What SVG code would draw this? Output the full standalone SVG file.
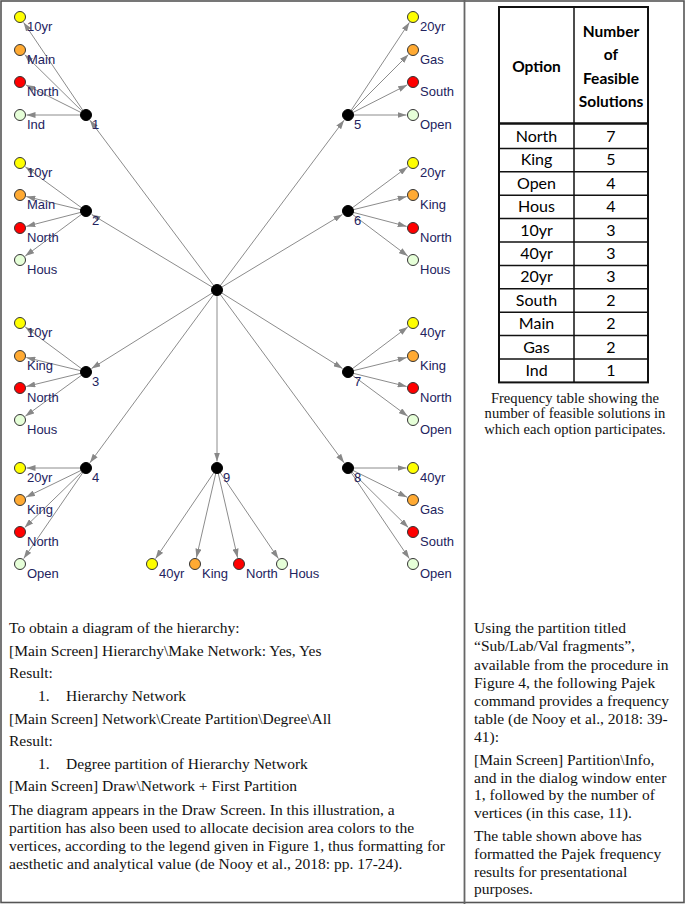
<svg xmlns="http://www.w3.org/2000/svg" width="685" height="904" viewBox="0 0 685 904">
<style>
.e{stroke:#8c8c8c;stroke-width:1;fill:none;marker-end:url(#ah)}
.hub{fill:#000;stroke:#000;stroke-width:1}
.lf{stroke:#333;stroke-width:1}
.Y{fill:#ffff00}.O{fill:#ffaa33}.R{fill:#ff0000}.G{fill:#e6ffd8}
.lb{font-family:"Liberation Sans",Arial,sans-serif;font-size:13px;fill:#23235e}
.th{font-family:Lato,"Open Sans",sans-serif;font-size:15.5px;font-weight:bold;fill:#000;text-anchor:middle}
.td{font-family:Lato,"Open Sans",sans-serif;font-size:16px;fill:#000;text-anchor:middle}
.tx{font-family:"Liberation Serif","Times New Roman",serif;font-size:15.5px;fill:#111}
.cap{font-family:"Liberation Serif","Times New Roman",serif;font-size:14.6px;fill:#111;text-anchor:middle}
.tl{stroke:#111;stroke-width:1.5}
</style>
<defs>
<marker id="ah" markerUnits="userSpaceOnUse" markerWidth="9" markerHeight="6" refX="9" refY="3" orient="auto" viewBox="0 0 9 6">
<path d="M0,0 L9,3 L0,6 z" fill="#888"/>
</marker>
</defs>
<rect x="0" y="0" width="685" height="904" fill="#fff"/>
<rect x="1" y="1" width="683" height="901.5" fill="none" stroke="#555" stroke-width="1.6"/>
<line x1="464.5" y1="0" x2="464.5" y2="904" stroke="#666" stroke-width="1.8"/>

<g id="connectors">
<line class="e" x1="217" y1="290" x2="89.9" y2="120.2"/>
<line class="e" x1="217" y1="290" x2="91.6" y2="214.4"/>
<line class="e" x1="217" y1="290" x2="91.5" y2="368.5"/>
<line class="e" x1="217" y1="290" x2="89.9" y2="462.8"/>
<line class="e" x1="217" y1="290" x2="344.1" y2="120.2"/>
<line class="e" x1="217" y1="290" x2="342.4" y2="214.4"/>
<line class="e" x1="217" y1="290" x2="342.5" y2="368.5"/>
<line class="e" x1="217" y1="290" x2="344.1" y2="462.8"/>
<line class="e" x1="217" y1="290" x2="217" y2="461.5"/>

<line class="e" x1="86" y1="115" x2="23.6" y2="22.4"/>
<line class="e" x1="86" y1="115" x2="24.6" y2="54.6"/>
<line class="e" x1="86" y1="115" x2="25.8" y2="84.9"/>
<line class="e" x1="86" y1="115" x2="26.5" y2="115"/>

<line class="e" x1="86" y1="211" x2="25.3" y2="166.8"/>
<line class="e" x1="86" y1="211" x2="26.3" y2="196.5"/>
<line class="e" x1="86" y1="211" x2="26.3" y2="226.4"/>
<line class="e" x1="86" y1="211" x2="25.2" y2="256.1"/>

<line class="e" x1="86" y1="372" x2="25.2" y2="326.9"/>
<line class="e" x1="86" y1="372" x2="26.3" y2="357.5"/>
<line class="e" x1="86" y1="372" x2="26.3" y2="386.5"/>
<line class="e" x1="86" y1="372" x2="25.3" y2="416.2"/>

<line class="e" x1="86" y1="468" x2="26.5" y2="468"/>
<line class="e" x1="86" y1="468" x2="25.9" y2="497.2"/>
<line class="e" x1="86" y1="468" x2="24.7" y2="527.5"/>
<line class="e" x1="86" y1="468" x2="23.7" y2="558.6"/>

<line class="e" x1="348" y1="115" x2="409.4" y2="22.4"/>
<line class="e" x1="348" y1="115" x2="408.4" y2="54.6"/>
<line class="e" x1="348" y1="115" x2="407.2" y2="84.9"/>
<line class="e" x1="348" y1="115" x2="406.5" y2="115"/>

<line class="e" x1="348" y1="211" x2="407.7" y2="166.8"/>
<line class="e" x1="348" y1="211" x2="406.7" y2="196.5"/>
<line class="e" x1="348" y1="211" x2="406.7" y2="226.4"/>
<line class="e" x1="348" y1="211" x2="407.8" y2="256.1"/>

<line class="e" x1="348" y1="372" x2="407.8" y2="326.9"/>
<line class="e" x1="348" y1="372" x2="406.7" y2="357.5"/>
<line class="e" x1="348" y1="372" x2="406.7" y2="386.5"/>
<line class="e" x1="348" y1="372" x2="407.7" y2="416.2"/>

<line class="e" x1="348" y1="468" x2="406.5" y2="468"/>
<line class="e" x1="348" y1="468" x2="407.1" y2="497.2"/>
<line class="e" x1="348" y1="468" x2="408.3" y2="527.5"/>
<line class="e" x1="348" y1="468" x2="409.3" y2="558.6"/>

<line class="e" x1="217" y1="468" x2="155.6" y2="558.6"/>
<line class="e" x1="217" y1="468" x2="196.4" y2="557.7"/>
<line class="e" x1="217" y1="468" x2="237.6" y2="557.7"/>
<line class="e" x1="217" y1="468" x2="278.4" y2="558.6"/>
</g>

<g id="root"><circle class="hub" cx="217" cy="290" r="5.5"/></g>

<g id="hub1"><circle class="hub" cx="86" cy="115" r="5.5"/><text class="lb" x="92" y="129">1</text></g>
<g id="hub2"><circle class="hub" cx="86" cy="211" r="5.5"/><text class="lb" x="92" y="225">2</text></g>
<g id="hub3"><circle class="hub" cx="86" cy="372" r="5.5"/><text class="lb" x="92" y="386">3</text></g>
<g id="hub4"><circle class="hub" cx="86" cy="468" r="5.5"/><text class="lb" x="92" y="482">4</text></g>
<g id="hub5"><circle class="hub" cx="348" cy="115" r="5.5"/><text class="lb" x="354" y="129">5</text></g>
<g id="hub6"><circle class="hub" cx="348" cy="211" r="5.5"/><text class="lb" x="354" y="225">6</text></g>
<g id="hub7"><circle class="hub" cx="348" cy="372" r="5.5"/><text class="lb" x="354" y="386">7</text></g>
<g id="hub8"><circle class="hub" cx="348" cy="468" r="5.5"/><text class="lb" x="354" y="482">8</text></g>
<g id="hub9"><circle class="hub" cx="217" cy="468" r="5.5"/><text class="lb" x="223" y="482">9</text></g>

<g id="h1-10yr"><circle class="lf Y" cx="20" cy="17" r="5.5"/><text class="lb" x="27" y="31">10yr</text></g>
<g id="h1-main"><circle class="lf O" cx="20" cy="50" r="5.5"/><text class="lb" x="27" y="64">Main</text></g>
<g id="h1-north"><circle class="lf R" cx="20" cy="82" r="5.5"/><text class="lb" x="27" y="96">North</text></g>
<g id="h1-ind"><circle class="lf G" cx="20" cy="115" r="5.5"/><text class="lb" x="27" y="129">Ind</text></g>

<g id="h2-10yr"><circle class="lf Y" cx="20" cy="163" r="5.5"/><text class="lb" x="27" y="177">10yr</text></g>
<g id="h2-main"><circle class="lf O" cx="20" cy="195" r="5.5"/><text class="lb" x="27" y="209">Main</text></g>
<g id="h2-north"><circle class="lf R" cx="20" cy="228" r="5.5"/><text class="lb" x="27" y="242">North</text></g>
<g id="h2-hous"><circle class="lf G" cx="20" cy="260" r="5.5"/><text class="lb" x="27" y="274">Hous</text></g>

<g id="h3-10yr"><circle class="lf Y" cx="20" cy="323" r="5.5"/><text class="lb" x="27" y="337">10yr</text></g>
<g id="h3-king"><circle class="lf O" cx="20" cy="356" r="5.5"/><text class="lb" x="27" y="370">King</text></g>
<g id="h3-north"><circle class="lf R" cx="20" cy="388" r="5.5"/><text class="lb" x="27" y="402">North</text></g>
<g id="h3-hous"><circle class="lf G" cx="20" cy="420" r="5.5"/><text class="lb" x="27" y="434">Hous</text></g>

<g id="h4-20yr"><circle class="lf Y" cx="20" cy="468" r="5.5"/><text class="lb" x="27" y="482">20yr</text></g>
<g id="h4-king"><circle class="lf O" cx="20" cy="500" r="5.5"/><text class="lb" x="27" y="514">King</text></g>
<g id="h4-north"><circle class="lf R" cx="20" cy="532" r="5.5"/><text class="lb" x="27" y="546">North</text></g>
<g id="h4-open"><circle class="lf G" cx="20" cy="564" r="5.5"/><text class="lb" x="27" y="578">Open</text></g>

<g id="h5-20yr"><circle class="lf Y" cx="413" cy="17" r="5.5"/><text class="lb" x="420" y="31">20yr</text></g>
<g id="h5-gas"><circle class="lf O" cx="413" cy="50" r="5.5"/><text class="lb" x="420" y="64">Gas</text></g>
<g id="h5-south"><circle class="lf R" cx="413" cy="82" r="5.5"/><text class="lb" x="420" y="96">South</text></g>
<g id="h5-open"><circle class="lf G" cx="413" cy="115" r="5.5"/><text class="lb" x="420" y="129">Open</text></g>

<g id="h6-20yr"><circle class="lf Y" cx="413" cy="163" r="5.5"/><text class="lb" x="420" y="177">20yr</text></g>
<g id="h6-king"><circle class="lf O" cx="413" cy="195" r="5.5"/><text class="lb" x="420" y="209">King</text></g>
<g id="h6-north"><circle class="lf R" cx="413" cy="228" r="5.5"/><text class="lb" x="420" y="242">North</text></g>
<g id="h6-hous"><circle class="lf G" cx="413" cy="260" r="5.5"/><text class="lb" x="420" y="274">Hous</text></g>

<g id="h7-40yr"><circle class="lf Y" cx="413" cy="323" r="5.5"/><text class="lb" x="420" y="337">40yr</text></g>
<g id="h7-king"><circle class="lf O" cx="413" cy="356" r="5.5"/><text class="lb" x="420" y="370">King</text></g>
<g id="h7-north"><circle class="lf R" cx="413" cy="388" r="5.5"/><text class="lb" x="420" y="402">North</text></g>
<g id="h7-open"><circle class="lf G" cx="413" cy="420" r="5.5"/><text class="lb" x="420" y="434">Open</text></g>

<g id="h8-40yr"><circle class="lf Y" cx="413" cy="468" r="5.5"/><text class="lb" x="420" y="482">40yr</text></g>
<g id="h8-gas"><circle class="lf O" cx="413" cy="500" r="5.5"/><text class="lb" x="420" y="514">Gas</text></g>
<g id="h8-south"><circle class="lf R" cx="413" cy="532" r="5.5"/><text class="lb" x="420" y="546">South</text></g>
<g id="h8-open"><circle class="lf G" cx="413" cy="564" r="5.5"/><text class="lb" x="420" y="578">Open</text></g>

<g id="h9-40yr"><circle class="lf Y" cx="152" cy="564" r="5.5"/><text class="lb" x="159" y="578">40yr</text></g>
<g id="h9-king"><circle class="lf O" cx="195" cy="564" r="5.5"/><text class="lb" x="202" y="578">King</text></g>
<g id="h9-north"><circle class="lf R" cx="239" cy="564" r="5.5"/><text class="lb" x="246" y="578">North</text></g>
<g id="h9-hous"><circle class="lf G" cx="282" cy="564" r="5.5"/><text class="lb" x="289" y="578">Hous</text></g>

<g id="table">
<rect x="499" y="7" width="149" height="375.4" fill="none" stroke="#111" stroke-width="2"/>
<line class="tl" x1="574" y1="7" x2="574" y2="382.4"/>
<line x1="499" y1="123.5" x2="648" y2="123.5" stroke="#111" stroke-width="2.5"/>
<line class="tl" x1="499" y1="148.4" x2="648" y2="148.4"/>
<line class="tl" x1="499" y1="171.8" x2="648" y2="171.8"/>
<line class="tl" x1="499" y1="195.2" x2="648" y2="195.2"/>
<line class="tl" x1="499" y1="218.6" x2="648" y2="218.6"/>
<line class="tl" x1="499" y1="242" x2="648" y2="242"/>
<line class="tl" x1="499" y1="265.4" x2="648" y2="265.4"/>
<line class="tl" x1="499" y1="288.8" x2="648" y2="288.8"/>
<line class="tl" x1="499" y1="312.2" x2="648" y2="312.2"/>
<line class="tl" x1="499" y1="335.6" x2="648" y2="335.6"/>
<line class="tl" x1="499" y1="359" x2="648" y2="359"/>
<text class="th" x="536.5" y="72">Option</text>
<text class="th" x="611" y="37">Number</text>
<text class="th" x="611" y="60">of</text>
<text class="th" x="611" y="84">Feasible</text>
<text class="th" x="611" y="107">Solutions</text>
<text class="td" x="536.5" y="142">North</text><text class="td" x="611" y="142">7</text>
<text class="td" x="536.5" y="165.4">King</text><text class="td" x="611" y="165.4">5</text>
<text class="td" x="536.5" y="188.8">Open</text><text class="td" x="611" y="188.8">4</text>
<text class="td" x="536.5" y="212.2">Hous</text><text class="td" x="611" y="212.2">4</text>
<text class="td" x="536.5" y="235.6">10yr</text><text class="td" x="611" y="235.6">3</text>
<text class="td" x="536.5" y="259">40yr</text><text class="td" x="611" y="259">3</text>
<text class="td" x="536.5" y="282.4">20yr</text><text class="td" x="611" y="282.4">3</text>
<text class="td" x="536.5" y="305.8">South</text><text class="td" x="611" y="305.8">2</text>
<text class="td" x="536.5" y="329.2">Main</text><text class="td" x="611" y="329.2">2</text>
<text class="td" x="536.5" y="352.6">Gas</text><text class="td" x="611" y="352.6">2</text>
<text class="td" x="536.5" y="376">Ind</text><text class="td" x="611" y="376">1</text>
</g>

<g id="caption">
<text class="cap" x="575" y="402.5">Frequency table showing the</text>
<text class="cap" x="575" y="418">number of feasible solutions in</text>
<text class="cap" x="575" y="433.5">which each option participates.</text>
</g>

<g id="left-text">
<text class="tx" x="9" y="633">To obtain a diagram of the hierarchy:</text>
<text class="tx" x="9" y="656">[Main Screen] Hierarchy\Make Network: Yes, Yes</text>
<text class="tx" x="9" y="678">Result:</text>
<text class="tx" x="38" y="701">1.</text><text class="tx" x="66" y="701">Hierarchy Network</text>
<text class="tx" x="9" y="724">[Main Screen] Network\Create Partition\Degree\All</text>
<text class="tx" x="9" y="746">Result:</text>
<text class="tx" x="38" y="769">1.</text><text class="tx" x="66" y="769">Degree partition of Hierarchy Network</text>
<text class="tx" x="9" y="791">[Main Screen] Draw\Network + First Partition</text>
<text class="tx" x="9" y="815">The diagram appears in the Draw Screen. In this illustration, a</text>
<text class="tx" x="9" y="833">partition has also been used to allocate decision area colors to the</text>
<text class="tx" x="9" y="851">vertices, according to the legend given in Figure 1, thus formatting for</text>
<text class="tx" x="9" y="869">aesthetic and analytical value (de Nooy et al., 2018: pp. 17-24).</text>
</g>

<g id="right-text">
<text class="tx" x="474" y="633">Using the partition titled</text>
<text class="tx" x="474" y="651">“Sub/Lab/Val fragments”,</text>
<text class="tx" x="474" y="670">available from the procedure in</text>
<text class="tx" x="474" y="688">Figure 4, the following Pajek</text>
<text class="tx" x="474" y="706">command provides a frequency</text>
<text class="tx" x="474" y="724">table (de Nooy et al., 2018: 39-</text>
<text class="tx" x="474" y="742">41):</text>
<text class="tx" x="474" y="765">[Main Screen] Partition\Info,</text>
<text class="tx" x="474" y="783">and in the dialog window enter</text>
<text class="tx" x="474" y="800">1, followed by the number of</text>
<text class="tx" x="474" y="818">vertices (in this case, 11).</text>
<text class="tx" x="474" y="841">The table shown above has</text>
<text class="tx" x="474" y="859">formatted the Pajek frequency</text>
<text class="tx" x="474" y="877">results for presentational</text>
<text class="tx" x="474" y="894">purposes.</text>
</g>
</svg>
